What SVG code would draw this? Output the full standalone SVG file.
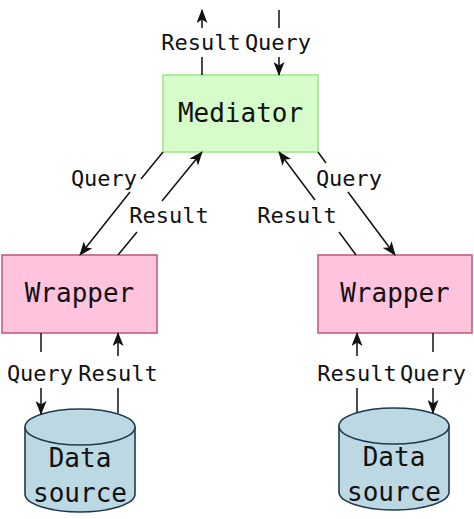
<svg xmlns="http://www.w3.org/2000/svg" width="474" height="519" viewBox="0 0 474 519">
<style>
.lbl{font-family:"DejaVu Sans Mono","Liberation Mono",monospace;font-size:22px;fill:#111;text-anchor:middle}
.nl{font-family:"DejaVu Sans Mono","Liberation Mono",monospace;font-size:26px;fill:#111;text-anchor:middle}
.med{fill:#d5fcc9;stroke:#9fe88b;stroke-width:1.6}
.wrp{fill:#ffc3dd;stroke:#c2607f;stroke-width:1.6}
.db{fill:#bcd8e2;stroke:#1e3a4e;stroke-width:1.6}
.con{fill:none;stroke:#111;stroke-width:1.5}
</style>
<defs>
<marker id="ah" viewBox="0 0 14 11" refX="13" refY="5.5" markerWidth="14" markerHeight="11" markerUnits="userSpaceOnUse" orient="auto">
<path d="M0,0 L14,5.5 L0,11 L3.5,5.5 z" fill="#111"/>
</marker>
</defs>
<g id="mediator">
<rect class="med" x="163" y="75" width="155" height="77"/>
<text class="nl" x="240.5" y="122">Mediator</text>
</g>
<g id="wrapper-left">
<rect class="wrp" x="2" y="255" width="155" height="78"/>
<text class="nl" x="79.5" y="302">Wrapper</text>
</g>
<g id="wrapper-right">
<rect class="wrp" x="318" y="255" width="154" height="78"/>
<text class="nl" x="395" y="302">Wrapper</text>
</g>
<g id="datasource-left">
<path class="db" d="M25,427 A55,18 0 0 1 135,427 V494 A55,18 0 0 1 25,494 Z"/>
<path class="db" d="M25,427 A55,18 0 0 0 135,427" fill="none"/>
<text class="nl" x="80" y="467">Data</text>
<text class="nl" x="80" y="502">source</text>
</g>
<g id="datasource-right">
<path class="db" d="M339,426 A55,18 0 0 1 449,426 V492 A55,18 0 0 1 339,492 Z"/>
<path class="db" d="M339,426 A55,18 0 0 0 449,426" fill="none"/>
<text class="nl" x="394" y="466">Data</text>
<text class="nl" x="394" y="501">source</text>
</g>
<g id="connectors">
<path class="con" d="M202,75 V57 M202,28 V10" marker-end="url(#ah)"/>
<text class="lbl" x="201" y="50">Result</text>
<path class="con" d="M279,10 V28 M279,57 V75" marker-end="url(#ah)"/>
<text class="lbl" x="278" y="50">Query</text>

<path class="con" d="M163,152 L141,179 M130,192 L80,255" marker-end="url(#ah)"/>
<text class="lbl" x="104" y="186">Query</text>
<path class="con" d="M118,255 L137,232 M162,201 L202,152" marker-end="url(#ah)"/>
<text class="lbl" x="169" y="223">Result</text>

<path class="con" d="M318,152 L326,163 M348,192 L395,255" marker-end="url(#ah)"/>
<text class="lbl" x="349" y="186">Query</text>
<path class="con" d="M356,255 L339,232 M315,200 L279,152" marker-end="url(#ah)"/>
<text class="lbl" x="297" y="223">Result</text>

<path class="con" d="M41,333 V352 M41,388 V414" marker-end="url(#ah)"/>
<text class="lbl" x="40" y="381">Query</text>
<path class="con" d="M118,413 V388 M118,356 V333" marker-end="url(#ah)"/>
<text class="lbl" x="118" y="381">Result</text>

<path class="con" d="M357,412 V388 M357,356 V333" marker-end="url(#ah)"/>
<text class="lbl" x="357" y="381">Result</text>
<path class="con" d="M433,333 V352 M433,388 V413" marker-end="url(#ah)"/>
<text class="lbl" x="433" y="381">Query</text>
</g>
</svg>
